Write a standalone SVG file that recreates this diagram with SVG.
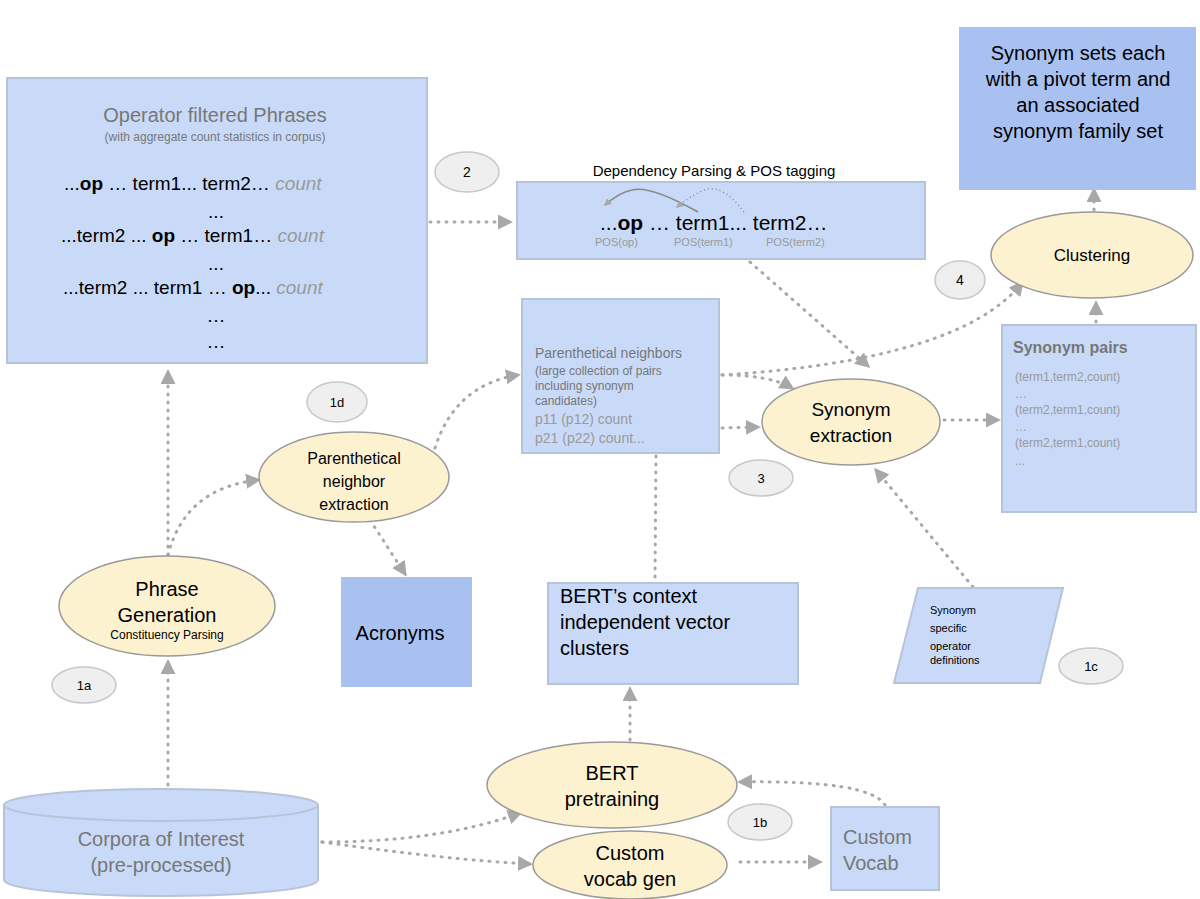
<svg xmlns="http://www.w3.org/2000/svg" width="1200" height="899" viewBox="0 0 1200 899">
<defs>
<marker id="ah" viewBox="0 0 10 10" refX="8" refY="5" markerWidth="5" markerHeight="5" orient="auto" markerUnits="strokeWidth"><path d="M0,0 L10,5 L0,10 z" fill="#a8a8a8"/></marker>
<style>
text{font-family:"Liberation Sans",Arial,sans-serif}
.lb{fill:#c9daf8;stroke:#b7c3d8;stroke-width:2}
.db{fill:#a9c1f0;stroke:none}
.ye{fill:#fdf2d0;stroke:#999;stroke-width:1.5}
.gy{fill:#efefef;stroke:#c8c8c8;stroke-width:1.5}
.c{fill:none;stroke:#a8a8a8;stroke-width:3;stroke-dasharray:1 7;stroke-linecap:round}
.a{marker-end:url(#ah)}
.g{fill:#888}
.k{fill:#000}
</style>
</defs>
<rect width="1200" height="899" fill="#fff"/>
<g id="connectors">
<path class="c a" d="M430,222 L510,222"/>
<path class="c a" d="M168,785 L168,662"/>
<path class="c a" d="M168,555 L168,372"/>
<path class="c a" d="M168,555 Q185,488 258,480"/>
<path class="c a" d="M435,448 Q455,385 518,375"/>
<path class="c a" d="M370,520 L405,574"/>
<path class="c a" d="M722,375 Q770,375 792,388"/>
<path class="c a" d="M722,428 L758,427"/>
<path class="c a" d="M750,262 L868,366"/>
<path class="c a" d="M722,375 Q960,360 1022,283"/>
<path class="c a" d="M944,420 L998,420"/>
<path class="c a" d="M1096,322 L1096,303"/>
<path class="c a" d="M1094,210 L1094,190"/>
<path class="c a" d="M973,587 L876,470"/>
<path class="c" d="M656,456 L655,580"/>
<path class="c a" d="M630,740 L630,689"/>
<path class="c a" d="M322,842 Q440,842 520,813"/>
<path class="c a" d="M322,842 Q450,860 530,864"/>
<path class="c a" d="M740,862 L820,862"/>
<path class="c a" d="M885,805 Q870,780 740,782"/>
</g>
<g id="operator-phrases">
<rect class="lb" x="7" y="78" width="420" height="285"/>
<text x="215" y="122" text-anchor="middle" font-size="20" fill="#777">Operator  filtered Phrases</text>
<text x="215" y="141" text-anchor="middle" font-size="12" fill="#777">(with aggregate count statistics in corpus)</text>
<g font-size="19">
<text x="64" y="190" class="k">...<tspan font-weight="bold">op</tspan> … term1... term2…  <tspan fill="#999" font-style="italic">count</tspan></text>
<text x="216" y="218" text-anchor="middle" class="k">...</text>
<text x="61" y="242" class="k">...term2 ... <tspan font-weight="bold">op</tspan> … term1…  <tspan fill="#999" font-style="italic">count</tspan></text>
<text x="216" y="270" text-anchor="middle" class="k">...</text>
<text x="63" y="294" class="k">...term2 ... term1 … <tspan font-weight="bold">op</tspan>...  <tspan fill="#999" font-style="italic">count</tspan></text>
<text x="216" y="322" text-anchor="middle" class="k">…</text>
<text x="216" y="348" text-anchor="middle" class="k">…</text>
</g>
</g>
<g id="step2"><ellipse class="gy" cx="467" cy="172" rx="32" ry="20"/><text x="467" y="177" text-anchor="middle" font-size="14">2</text></g>
<g id="dependency-parsing">
<text x="714" y="176" text-anchor="middle" font-size="15">Dependency Parsing &amp; POS tagging</text>
<rect class="lb" x="517" y="182" width="408" height="77" stroke="none"/>
<path d="M698,212 Q650,185 632,190 Q620,192 605,205" fill="none" stroke="#888" stroke-width="1.5" marker-end="url(#ah)"/>
<path d="M744,212 Q720,180 700,192 Q688,198 677,207" fill="none" stroke="#888" stroke-width="1.5" stroke-dasharray="1 3" marker-end="url(#ah)"/>
<text x="600" y="230" font-size="21" class="k">...<tspan font-weight="bold">op</tspan> … term1... term2…</text>
<text x="595" y="246" font-size="11" fill="#999">POS(op)</text>
<text x="674" y="246" font-size="11" fill="#999">POS(term1)</text>
<text x="766" y="246" font-size="11" fill="#999">POS(term2)</text>
</g>
<g id="synonym-sets"><rect class="db" x="959" y="27" width="237" height="163"/>
<text text-anchor="middle" font-size="20" class="k"><tspan x="1078" y="60">Synonym sets each</tspan><tspan x="1078" y="86">with a pivot term and</tspan><tspan x="1078" y="112">an associated</tspan><tspan x="1078" y="138">synonym family set</tspan></text></g>
<g id="clustering"><ellipse class="ye" cx="1092" cy="255" rx="101" ry="43"/><text x="1092" y="261" text-anchor="middle" font-size="17">Clustering</text></g>
<g id="step4"><ellipse class="gy" cx="960" cy="280" rx="25" ry="19"/><text x="960" y="285" text-anchor="middle" font-size="14">4</text></g>
<g id="synonym-pairs"><rect class="lb" x="1002" y="325" width="194" height="187" stroke="none"/>
<text x="1013" y="353" font-size="16" font-weight="bold" fill="#777">Synonym pairs</text>
<g font-size="12" fill="#999"><text x="1015" y="381">(term1,term2,count)</text><text x="1015" y="398">…</text><text x="1015" y="414">(term2,term1,count)</text><text x="1015" y="431">…</text><text x="1015" y="447">(term2,term1,count)</text><text x="1015" y="465">...</text></g></g>
<g id="parenthetical-neighbors"><rect class="lb" x="522" y="299" width="197" height="154" stroke="none"/>
<text x="535" y="358" font-size="14" fill="#777">Parenthetical neighbors</text>
<g font-size="12" fill="#777"><text x="535" y="375">(large collection of pairs</text><text x="535" y="390">including synonym</text><text x="535" y="405">candidates)</text></g>
<g font-size="14" fill="#999"><text x="535" y="424">p11  (p12)  count</text><text x="535" y="443">p21  (p22)  count...</text></g></g>
<g id="synonym-extraction"><ellipse class="ye" cx="851" cy="422" rx="89" ry="43"/><text text-anchor="middle" font-size="19"><tspan x="851" y="416">Synonym</tspan><tspan x="851" y="442">extraction</tspan></text></g>
<g id="step3"><ellipse class="gy" cx="761" cy="478" rx="32" ry="18"/><text x="761" y="483" text-anchor="middle" font-size="13">3</text></g>
<g id="step1d"><ellipse class="gy" cx="337" cy="402" rx="30" ry="20"/><text x="337" y="407" text-anchor="middle" font-size="13">1d</text></g>
<g id="parenthetical-extraction"><ellipse class="ye" cx="354" cy="477" rx="95" ry="45"/><text text-anchor="middle" font-size="16"><tspan x="354" y="464">Parenthetical</tspan><tspan x="354" y="487">neighbor</tspan><tspan x="354" y="510">extraction</tspan></text></g>
<g id="phrase-generation"><ellipse class="ye" cx="167" cy="606" rx="108" ry="50"/><text text-anchor="middle" font-size="20"><tspan x="167" y="596">Phrase</tspan><tspan x="167" y="622">Generation</tspan></text><text x="167" y="639" text-anchor="middle" font-size="12">Constituency Parsing</text></g>
<g id="acronyms"><rect class="db" x="341" y="577" width="131" height="110"/><text x="400" y="640" text-anchor="middle" font-size="20">Acronyms</text></g>
<g id="bert-context"><rect class="lb" x="548" y="583" width="250" height="101"/><text font-size="20"><tspan x="560" y="603">BERT’s context</tspan><tspan x="560" y="629">independent vector</tspan><tspan x="560" y="655">clusters</tspan></text></g>
<g id="synonym-operators"><polygon class="lb" points="918,588 1063,588 1040,683 894,683"/><text font-size="11"><tspan x="930" y="614">Synonym</tspan><tspan x="930" y="632">specific</tspan><tspan x="930" y="650">operator</tspan><tspan x="930" y="664">definitions</tspan></text></g>
<g id="step1c"><ellipse class="gy" cx="1091" cy="666" rx="32" ry="18"/><text x="1091" y="671" text-anchor="middle" font-size="13">1c</text></g>
<g id="step1a"><ellipse class="gy" cx="84" cy="685" rx="32" ry="18"/><text x="84" y="690" text-anchor="middle" font-size="13">1a</text></g>
<g id="bert-pretraining"><ellipse class="ye" cx="612" cy="785" rx="125" ry="43"/><text text-anchor="middle" font-size="20"><tspan x="612" y="780">BERT</tspan><tspan x="612" y="806">pretraining</tspan></text></g>
<g id="step1b"><ellipse class="gy" cx="760" cy="822" rx="32" ry="18"/><text x="760" y="827" text-anchor="middle" font-size="13">1b</text></g>
<g id="custom-vocab-gen"><ellipse class="ye" cx="630" cy="865" rx="97" ry="34"/><text text-anchor="middle" font-size="20"><tspan x="630" y="860">Custom</tspan><tspan x="630" y="886">vocab gen</tspan></text></g>
<g id="custom-vocab"><rect class="lb" x="831" y="807" width="108" height="83" stroke="none"/><text font-size="20" fill="#777"><tspan x="843" y="844">Custom</tspan><tspan x="843" y="870">Vocab</tspan></text></g>
<g id="corpora"><path class="lb" d="M4,805 L4,880 A157,16 0 0 0 318,880 L318,805"/><ellipse class="lb" cx="161" cy="805" rx="157" ry="16"/><text text-anchor="middle" font-size="20" fill="#777"><tspan x="161" y="846">Corpora of Interest</tspan><tspan x="161" y="872">(pre-processed)</tspan></text></g>
</svg>
